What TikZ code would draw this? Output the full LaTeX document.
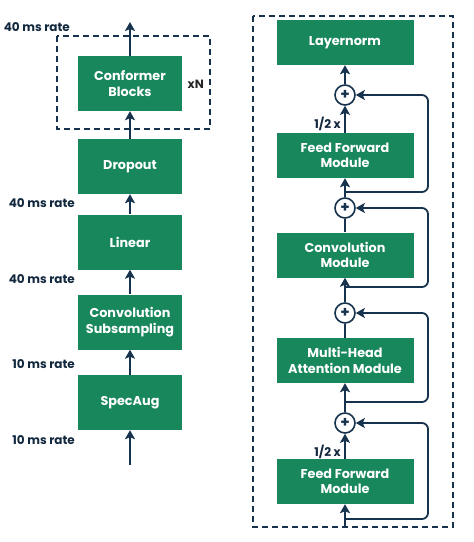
\documentclass[tikz,border=0pt]{standalone}
\usepackage{fontspec}
\setmainfont{Poppins}
\usetikzlibrary{arrows.meta}
\definecolor{blockgreen}{HTML}{18875C}
\definecolor{linenavy}{HTML}{17324D}
\tikzset{
  block/.style={fill=blockgreen,text=white,font=\bfseries\fontsize{12.8}{15.5}\selectfont,align=center,minimum width=104pt,minimum height=55pt,inner sep=2pt},
  module/.style={block,minimum width=137pt,minimum height=45pt},
  sumnode/.style={circle,draw=linenavy,line width=1.6pt,fill=white,minimum size=20pt,inner sep=0pt,text=linenavy,font=\bfseries\fontsize{15}{15}\selectfont},
  ratelabel/.style={anchor=east,text=linenavy!80!black,font=\bfseries\fontsize{12}{14}\selectfont,inner sep=0pt},
  line/.style={draw=linenavy,line width=1.8pt},
  flow/.style={line,-{Stealth[length=9pt,width=10pt,inset=2pt]}},
  dashbox/.style={draw=linenavy,line width=1.6pt,dash pattern=on 6pt off 4pt}
}
\begin{document}
\begin{tikzpicture}[x=1pt,y=-1pt]
   \useasboundingbox (0,0) rectangle (474,542);
   % left column
   \node[block] (spec) at (130,402.5) {SpecAug};
   \node[block] (sub) at (130,322) {Convolution\\Subsampling};
   \node[block] (lin) at (130,242) {Linear};
   \node[block] (drop) at (130,166.5) {Dropout};
   \node[block] (conf) at (130,83.5) {Conformer\\Blocks};
   \coordinate (in1) at (130,465);
   \coordinate (out1) at (130,22);
   \draw[dashbox] (57,36) rectangle (210,129);
   \node[ratelabel,text=black!85] (xn) at (204,84) {xN};
   \node[ratelabel] (r1) at (70,27) {40 ms rate};
   \node[ratelabel] (r2) at (75,203) {40 ms rate};
   \node[ratelabel] (r3) at (75,279) {40 ms rate};
   \node[ratelabel] (r4) at (75,364) {10 ms rate};
   \node[ratelabel] (r5) at (75,440) {10 ms rate};
   \draw[flow] (in1) -- (spec);
   \draw[flow] (spec) -- (sub);
   \draw[flow] (sub) -- (lin);
   \draw[flow] (lin) -- (drop);
   \draw[flow] (drop) -- (conf);
   \draw[flow] (conf) -- (out1);
   % right column: conformer block
   \draw[dashbox] (253,16) rectangle (453,527);
   \node[module] (ln) at (345,42.5) {Layernorm};
   \node[module] (ff1) at (345,155.5) {Feed Forward\\Module};
   \node[module] (conv) at (345,255) {Convolution\\Module};
   \node[module] (mha) at (345,360.5) {Multi-Head\\Attention Module};
   \node[module] (ff2) at (345,481.5) {Feed Forward\\Module};
   \node[sumnode] (s1) at (345,95) {+};
   \node[sumnode] (s2) at (345,208) {+};
   \node[sumnode] (s3) at (345,313) {+};
   \node[sumnode] (s4) at (345,423) {+};
   \coordinate (j1) at (345,192);
   \coordinate (j2) at (345,287);
   \coordinate (j3) at (345,402);
   \coordinate (j4) at (345,519);
   \coordinate (in2) at (345,527);
   \coordinate (loopx) at (428,0);
   \node[ratelabel] (h1) at (341,124) {1/2 x};
   \node[ratelabel] (h2) at (341,452) {1/2 x};
   \draw[flow] (in2) -- (ff2);
   \draw[flow] (ff2) -- (s4);
   \draw[flow] (s4) -- (mha);
   \draw[line] (mha) -- (s3);
   \draw[flow] (s3) -- (conv);
   \draw[line] (conv) -- (s2);
   \draw[flow] (s2) -- (ff1);
   \draw[flow] (ff1) -- (s1);
   \draw[flow] (s1) -- (ln);
   \draw[flow,rounded corners=6pt] (j4) -- (j4 -| loopx) |- (s4);
   \draw[flow,rounded corners=6pt] (j3) -- (j3 -| loopx) |- (s3);
   \draw[flow,rounded corners=6pt] (j2) -- (j2 -| loopx) |- (s2);
   \draw[flow,rounded corners=6pt] (j1) -- (j1 -| loopx) |- (s1);
\end{tikzpicture}
\end{document}
